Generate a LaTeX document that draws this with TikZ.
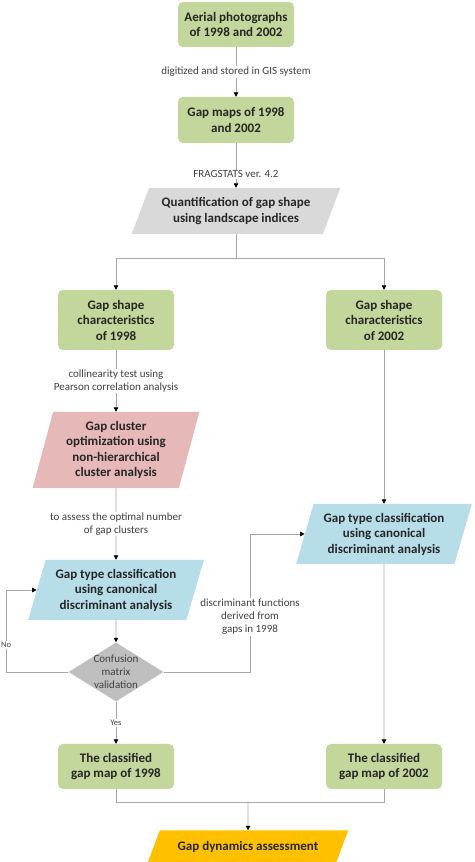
\documentclass[tikz,border=0pt]{standalone}
\usepackage{fontspec}
\setmainfont{Carlito}
\usetikzlibrary{positioning, shapes.geometric, arrows.meta}

\definecolor{boxgreen}{HTML}{C3D69B}
\definecolor{boxblue}{HTML}{B7DEE8}
\definecolor{boxpink}{HTML}{E6B9B8}
\definecolor{boxgrey}{HTML}{D9D9D9}
\definecolor{boxorange}{HTML}{FFC000}
\definecolor{decgrey}{HTML}{BFBFBF}
\definecolor{linegrey}{HTML}{A6A6A6}
\definecolor{labelgrey}{HTML}{404040}

\tikzset{
  boxfont/.style={font=\fontsize{13}{15.5}\selectfont\bfseries, text=black!85},
  greenbox/.style={rectangle, rounded corners=5pt, fill=boxgreen, minimum width=116pt, align=center, boxfont},
  slantbox/.style={trapezium, trapezium stretches=true, inner sep=1pt, align=center, boxfont},
  greyslant/.style={slantbox, fill=boxgrey, trapezium left angle=62.4, trapezium right angle=117.6, minimum width=209pt, minimum height=46pt},
  pinkslant/.style={slantbox, fill=boxpink, trapezium left angle=74.5, trapezium right angle=105.5, minimum width=167pt, minimum height=76pt},
  blueslant/.style={slantbox, fill=boxblue, trapezium left angle=71, trapezium right angle=109, minimum width=176pt, minimum height=60pt},
  orangeslant/.style={slantbox, fill=boxorange, trapezium left angle=53.4, trapezium right angle=126.6, minimum width=201pt, minimum height=32pt},
  decision/.style={diamond, aspect=1.6, inner sep=-3pt, minimum width=95pt, minimum height=59pt, fill=decgrey, align=center, font=\fontsize{11}{13}\selectfont, text=labelgrey},
  flow/.style={draw=linegrey, line width=0.8pt, -{Triangle[length=4.5pt, width=4.5pt, black]}},
  link/.style={draw=linegrey, line width=0.8pt},
  elabel/.style={fill=white, inner sep=1pt, align=center, font=\fontsize{11}{13}\selectfont, text=labelgrey},
  smalllabel/.style={fill=white, inner sep=1pt, font=\fontsize{8.5}{10}\selectfont, text=labelgrey}
}

\begin{document}
\begin{tikzpicture}
  \useasboundingbox (0,0) rectangle (474pt,862pt);

  % main column
  \node[greenbox, minimum height=45pt] (aerial) at (236pt,837.5pt) {Aerial photographs\\of 1998 and 2002};
  \node[greenbox, minimum height=46pt] (gapmaps) [below of=aerial, node distance=95.5pt] {Gap maps of 1998\\and 2002};
  \node[greyslant] (quant) [below of=gapmaps, node distance=91pt] {Quantification of gap shape\\using landscape indices};

  % 1998 branch
  \node[greenbox, minimum height=60pt] (shape98) at (116pt,542pt) {Gap shape\\characteristics\\of 1998};
  \node[pinkslant] (cluster) [below of=shape98, node distance=130pt] {Gap cluster\\optimization using\\non-hierarchical\\cluster analysis};
  \node[blueslant] (classL) [below of=cluster, node distance=140pt] {Gap type classification\\using canonical\\discriminant analysis};
  \node[decision] (confusion) [below of=classL, node distance=82pt] {Confusion\\matrix\\validation};
  \node[greenbox, minimum height=45pt] (map98) [below of=confusion, node distance=94.5pt] {The classified\\gap map of 1998};

  % 2002 branch
  \node[greenbox, minimum height=60pt] (shape02) [right of=shape98, node distance=268pt] {Gap shape\\characteristics\\of 2002};
  \node[blueslant] (classR) [below of=shape02, node distance=214pt] {Gap type classification\\using canonical\\discriminant analysis};
  \node[greenbox, minimum height=45pt] (map02) [right of=map98, node distance=268pt] {The classified\\gap map of 2002};

  \node[orangeslant] (assess) at (248pt,15.5pt) {Gap dynamics assessment};

  \coordinate (split) at (236pt,604pt);
  \coordinate (merge) at (248pt,60pt);
  \coordinate (nocorner) at (6pt,190pt);
  \coordinate (fncorner) at (250pt,190pt);

  \draw[flow] (aerial) -- (gapmaps) node[elabel, midway] {digitized and stored in GIS system};
  \draw[flow] (gapmaps) -- (quant) node[elabel, pos=0.7] {FRAGSTATS ver. 4.2};
  \draw[link] (quant) -- (split);
  \draw[flow] (split) -| (shape98);
  \draw[flow] (split) -| (shape02);

  \draw[flow] (shape98) -- (cluster) node[elabel, midway] {collinearity test using\\Pearson correlation analysis};
  \draw[flow] (cluster) -- (classL) node[elabel, midway] {to assess the optimal number\\of gap clusters};
  \draw[flow] (classL) -- (confusion);
  \draw[flow] (confusion) -- (map98) node[smalllabel, midway] {Yes};
  \draw[flow] (confusion) -- (nocorner) |- (classL) node[smalllabel, pos=0.165] {No};
  \draw[flow] (confusion) -- (fncorner) |- (classR) node[elabel, pos=0.2] {discriminant functions\\derived from\\gaps in 1998};

  \draw[flow] (shape02) -- (classR);
  \draw[flow] (classR) -- (map02);

  \draw[link] (map98) |- (merge);
  \draw[link] (map02) |- (merge);
  \draw[flow] (merge) -- (assess);
\end{tikzpicture}
\end{document}
